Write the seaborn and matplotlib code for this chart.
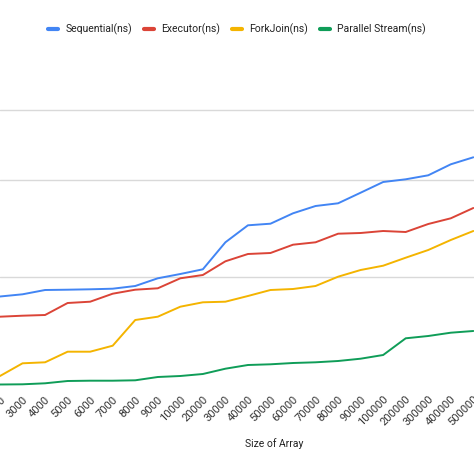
import numpy as np
import pandas as pd
import matplotlib
matplotlib.use("Agg")
import matplotlib.pyplot as plt
import seaborn as sns

# array sizes (2000 is just left of the visible area)
sizes = ["2000", "3000", "4000", "5000", "6000", "7000", "8000", "9000", "10000",
         "20000", "30000", "40000", "50000", "60000", "70000", "80000", "90000",
         "100000", "200000", "300000", "400000", "500000"]

# timings (y labels are cropped, arbitrary units)
sequential = [103.5, 105.7, 110, 110.3, 110.7, 111.3, 114, 121.7, 126, 130.7, 157.7,
              174.7, 176.3, 186.7, 194, 196.7, 207.3, 218, 220.7, 224.7, 235.7, 242.7]
executor = [83.3, 84.3, 85, 97, 98.3, 106.3, 110.3, 111.7, 121.7, 125, 138.7,
            146, 147, 155.3, 157.7, 166.3, 167, 169, 168, 176, 181.7, 192]
forkjoin = [24, 36.7, 37.7, 48.3, 48.3, 54.3, 80, 83.3, 93.3, 97.7, 98.3,
            104, 110, 111, 114, 123.3, 130, 134.3, 142.3, 150, 160, 169]
parallel = [15.5, 15.7, 16.7, 19, 19.3, 19.3, 19.7, 23, 24, 26, 31.3,
            35, 35.7, 37, 37.7, 39, 41.3, 45, 61.7, 64, 67.3, 69]

series_names = ["Sequential(ns)", "Executor(ns)", "ForkJoin(ns)", "Parallel Stream(ns)"]
colors = ["#4285F4", "#DB4437", "#F4B400", "#0F9D58"]
grid_vals = [123, 220, 290]

rows = []
for name, vals in zip(series_names, [sequential, executor, forkjoin, parallel]):
    for i, v in enumerate(vals):
        rows.append({"pos": i, "size": sizes[i], "time": v, "series": name})
df = pd.DataFrame(rows)

sns.set_style("white")
plt.rcParams["font.family"] = ["Roboto", "DejaVu Sans"]

fig = plt.figure(figsize=(4.74, 4.74), dpi=100)
ax = fig.add_axes([0, 1 - 390 / 474, 1, 290 / 474])

sns.lineplot(data=df, x="pos", y="time", hue="series", palette=colors,
             hue_order=series_names, linewidth=1.4, sort=False, ax=ax, legend=False)

step = 23.3
ax.set_xlim(1 - 7.3 / step, 21 + 0.7 / step)
ax.set_ylim(10, 300)

ax.set_yticks(grid_vals)
ax.set_yticklabels([])
ax.yaxis.grid(True, color="#d9d9d9", linewidth=1.0)
ax.tick_params(axis="y", length=0)

ax.set_xticks(range(len(sizes)))
ax.set_xticklabels(sizes, rotation=45, ha="right", va="top",
                   rotation_mode="anchor", fontsize=8, color="#333333")
ax.tick_params(axis="x", length=0, pad=3)

for s in ax.spines.values():
    s.set_visible(False)

ax.set_xlabel("Size of Array", fontsize=7.5, color="#222222")
ax.set_ylabel("")
ax.xaxis.set_label_coords(274 / 474, (390 - 444) / 290)
ax.xaxis.label.set_va("center")

handles = [plt.Line2D([], [], color=c, linewidth=3) for c in colors]
fig.legend(handles, series_names, loc="center", bbox_to_anchor=(0.5, 1 - 29.3 / 474),
           ncol=4, frameon=False, fontsize=7.5, handlelength=0.9, handletextpad=0.7,
           columnspacing=1.2, labelcolor="#222222")

fig.savefig("out.png", dpi=100)
